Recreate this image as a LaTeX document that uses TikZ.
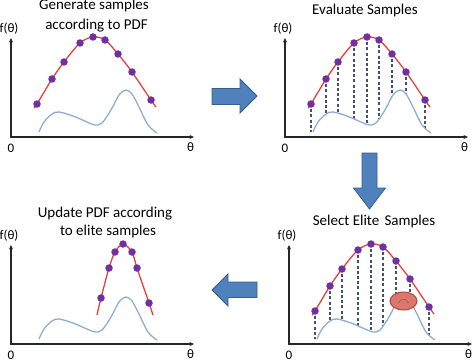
\documentclass[tikz,border=0pt]{standalone}
\usepackage{fontspec}
\setmainfont{Carlito}
\usetikzlibrary{arrows.meta,shapes.geometric}
\definecolor{axisc}{HTML}{262626}
\definecolor{redc}{HTML}{E8403A}
\definecolor{dotc}{HTML}{7030A0}
\definecolor{bluec}{HTML}{8DAED3}
\definecolor{dashc}{HTML}{3F5273}
\definecolor{arrfill}{HTML}{4F81BD}
\definecolor{arrdraw}{HTML}{385D8A}
\definecolor{ellfill}{HTML}{D9786F}
\definecolor{elldraw}{HTML}{B8433D}
\newcommand{\dotlist}{26/-33, 41/-58, 53/-75, 69/-94, 82/-100, 94/-97, 107/-83, 121/-65, 140/-37}
\newcommand{\bluecurve}{plot[smooth,tension=0.55] coordinates {(28,-5) (33,-15) (41,-23) (48,-25) (62,-21) (76,-15) (84,-12) (91,-14) (100,-27) (108,-42) (115,-47) (121,-43) (128,-30) (137,-12) (146,-4)}}
\newcommand{\redcurve}{plot[smooth,tension=0.55] coordinates {(23,-29) (26,-33) (41,-58) (53,-75) (69,-94) (82,-100) (94,-97) (107,-83) (121,-65) (140,-37) (145,-30)}}
\tikzset{
  axisline/.style={draw=axisc, line width=1.3pt, {Stealth[length=4.5pt,width=4pt]}-{Stealth[length=4.5pt,width=4pt]}},
  lbl/.style={font=\fontsize{13}{15}\selectfont, inner sep=0pt, text=black},
  ttl/.style={font=\fontsize{15}{19}\selectfont, inner sep=0pt, anchor=base, text=black},
  redline/.style={draw=redc, line width=1.3pt},
  blueline/.style={draw=bluec, line width=1.3pt},
  dashline/.style={draw=dashc, line width=1.2pt, dash pattern=on 3pt off 2.2pt},
  sdot/.style={circle, fill=dotc, inner sep=0pt, minimum size=7.5pt},
  blockarrow/.style={fill=arrfill, draw=arrdraw, line width=0.8pt, line join=miter},
  elite/.style={ellipse, fill=ellfill, draw=elldraw, line width=1pt, inner sep=0pt, minimum width=27pt, minimum height=18pt},
  pics/axes/.style={code={
    \draw[axisline] (0,-99) -- (0,0) -- (183,0);
    \node[lbl] (-f) at (-2,-108) {f(θ)};
    \node[lbl] (-zero) at (0,11) {0};
    \node[lbl] (-theta) at (179.5,10) {θ};
  }}
}
\begin{document}
\begin{tikzpicture}[x=1pt,y=-1pt]
\useasboundingbox (0,0) rectangle (474,361);

% ---------- Panel 1 ----------
\node[ttl] (t1a) at (94,10) {Generate samples};
\node[ttl] (t1b) at (96.5,29.5) {according to PDF};
\begin{scope}[shift={(11,137)}]
  \pic (p1) {axes};
  \draw[blueline] \bluecurve;
  \draw[redline] \redcurve;
  \foreach \x/\y [count=\i] in \dotlist {\node[sdot] (p1d\i) at (\x,\y) {};}
\end{scope}

% ---------- Panel 2 ----------
\node[ttl] (t2) at (365,15) {Evaluate Samples};
\begin{scope}[shift={(285,137)}]
  \pic (p2) {axes};
  \begin{scope}
    \clip \bluecurve -- (155,-4) -- (155,-130) -- (15,-130) -- (15,-4) -- cycle;
    \foreach \x/\y in \dotlist {\draw[dashline] (\x,\y) -- (\x,2);}
  \end{scope}
  \draw[blueline] \bluecurve;
  \draw[redline] \redcurve;
  \foreach \x/\y [count=\i] in \dotlist {\node[sdot] (p2d\i) at (\x,\y) {};}
\end{scope}

% ---------- Panel 3 ----------
\node[ttl] (t3) at (374,225) {Select Elite\hspace{0.12em} Samples};
\begin{scope}[shift={(289,344)}]
  \pic (p3) {axes};
  \begin{scope}
    \clip \bluecurve -- (155,-4) -- (155,-130) -- (15,-130) -- (15,-4) -- cycle;
    \foreach \x/\y in \dotlist {\draw[dashline] (\x,\y) -- (\x,2);}
  \end{scope}
  \draw[blueline] \bluecurve;
  \draw[redline] \redcurve;
  \foreach \x/\y [count=\i] in \dotlist {\node[sdot] (p3d\i) at (\x,\y) {};}
  \node[elite] (el) at (114.5,-43) {};
  \draw[draw=elldraw!80!black, line width=0.6pt, opacity=0.6] (109.5,-41) .. controls (111,-46) and (118,-46) .. (119.5,-41);
\end{scope}

% ---------- Panel 4 ----------
\node[ttl] (t4a) at (105,217) {Update PDF according};
\node[ttl] (t4b) at (108,235) {to elite samples};
\begin{scope}[shift={(11,344)}]
  \pic (p4) {axes};
  \draw[blueline] \bluecurve;
  \draw[redline] plot[smooth,tension=0.5] coordinates {(86,-29) (90,-46) (98,-76) (104,-92) (112,-100) (121,-92) (126,-76) (138,-41) (142,-29)};
  \foreach \x/\y [count=\i] in {90/-46, 98/-76, 104/-92, 112/-100, 121/-92, 126/-76, 138/-41} {\node[sdot] (p4d\i) at (\x,\y) {};}
\end{scope}

% ---------- Block arrows ----------
\draw[blockarrow] (212,88.5) -- (240,88.5) -- (240,79) -- (257,96) -- (240,113) -- (240,104.5) -- (212,104.5) -- cycle;
\draw[blockarrow] (362,153) -- (377,153) -- (377,188) -- (385.5,188) -- (369.5,209) -- (353.5,188) -- (362,188) -- cycle;
\draw[blockarrow] (257,282) -- (228,282) -- (228,274) -- (212,290) -- (228,306) -- (228,297.5) -- (257,297.5) -- cycle;
\end{tikzpicture}
\end{document}
